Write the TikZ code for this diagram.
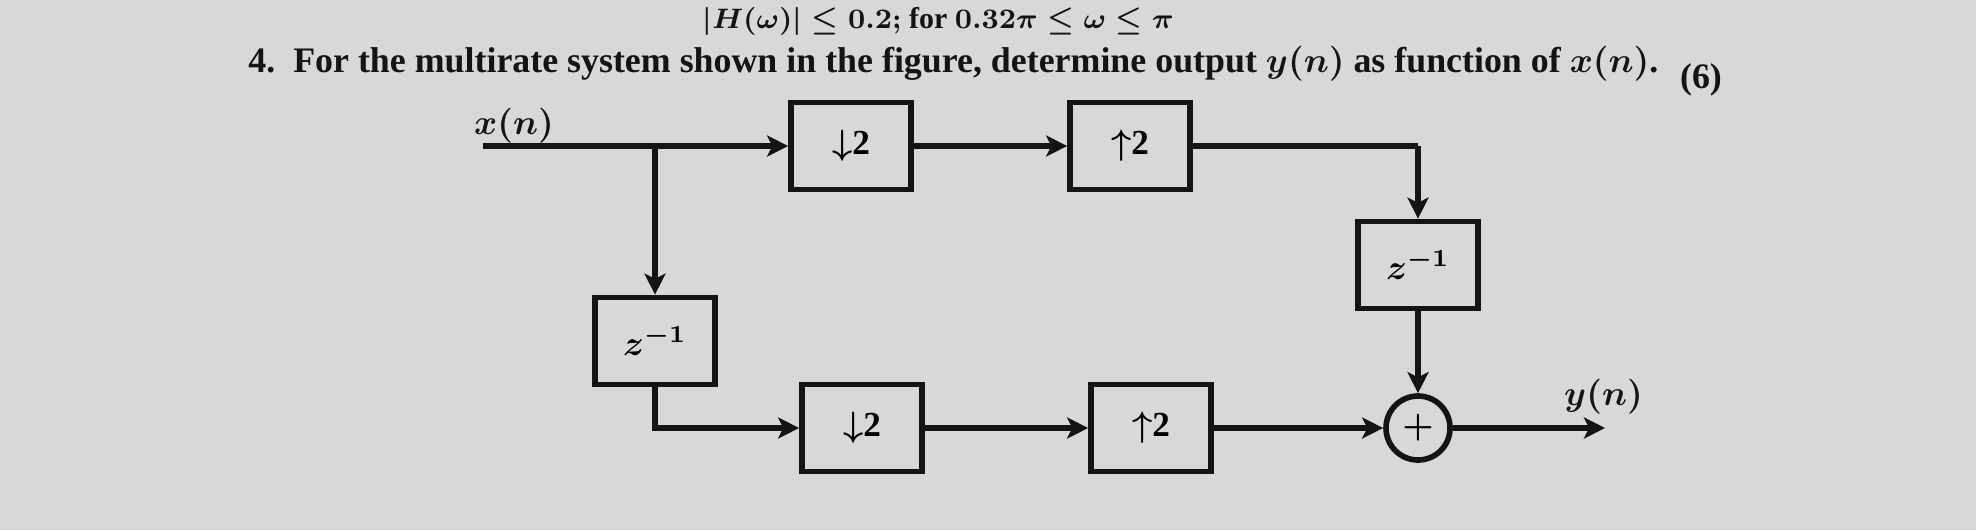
\documentclass[tikz,border=0pt]{standalone}
\usepackage{fontspec}
\setmainfont{Liberation Serif}
\usepackage{amsmath}
\usetikzlibrary{arrows.meta}
\definecolor{paper}{RGB}{216,217,214}
\definecolor{ink}{RGB}{20,20,20}
\begin{document}
\begin{tikzpicture}[x=0.01cm,y=-0.01cm,
  sig/.style={draw=ink,line width=1.5pt,-{Stealth[length=6pt,width=6pt,inset=1.5pt]}},
  wire/.style={draw=ink,line width=1.5pt},
  blk/.style={draw=ink,line width=1.6pt,minimum width=1.2cm,minimum height=0.87cm,inner sep=0pt,font=\bfseries\boldmath},
  sumnode/.style={draw=ink,line width=1.6pt,circle,minimum size=0.64cm,inner sep=0pt,font=\bfseries\boldmath},
  lbl/.style={font=\bfseries\boldmath,text=ink,inner sep=1pt},
  qtext/.style={text=ink,font=\bfseries\boldmath\fontsize{10.2}{12}\selectfont}]
\useasboundingbox (0,0) rectangle (1976,530);
\fill[paper] (0,0) rectangle (1976,530);
% header text
\node[qtext,anchor=base west,font=\bfseries\boldmath\fontsize{8.5}{10}\selectfont] (hdr) at (690,28) {$|H(\omega)|\le 0.2;$ for $0.32\pi\le\omega\le\pi$};
\node[qtext,anchor=base west] (q) at (236,72) {4.\ \ For the multirate system shown in the figure, determine output $y(n)$ as function of $x(n)$.};
\node[qtext] (mk) at (1701,80) {(6)};
% diagram
\coordinate (xin) at (483,146);
\coordinate (br) at (655,146);
\node[blk] (d1) at (851,146) {$\downarrow$2};
\node[blk] (u1) at (1130,146) {$\uparrow$2};
\coordinate (c1) at (1418,146);
\node[blk] (z2) at (1418,265) {$z^{-1}$};
\node[sumnode] (add) at (1418,428) {$+$};
\coordinate (yout) at (1605,428);
\node[blk] (z1) at (655,341) {$z^{-1}$};
\node[blk] (d2) at (862,428) {$\downarrow$2};
\node[blk] (u2) at (1151,428) {$\uparrow$2};
\node[lbl,anchor=south west] (xl) at (470,148) {$x(n)$};
\node[lbl,anchor=south west] (yl) at (1560,419) {$y(n)$};
% connectors
\draw[sig] (xin) -- (d1.west);
\draw[sig] (br) -- (z1.north);
\draw[sig] (d1.east) -- (u1.west);
\draw[wire] (u1.east) -- (c1);
\draw[sig] (c1) -- (z2.north);
\draw[sig] (z2.south) -- (add.north);
\draw[sig] (z1.south) |- (d2.west);
\draw[sig] (d2.east) -- (u2.west);
\draw[sig] (u2.east) -- (add.west);
\draw[sig] (add.east) -- (yout);
\end{tikzpicture}
\end{document}
